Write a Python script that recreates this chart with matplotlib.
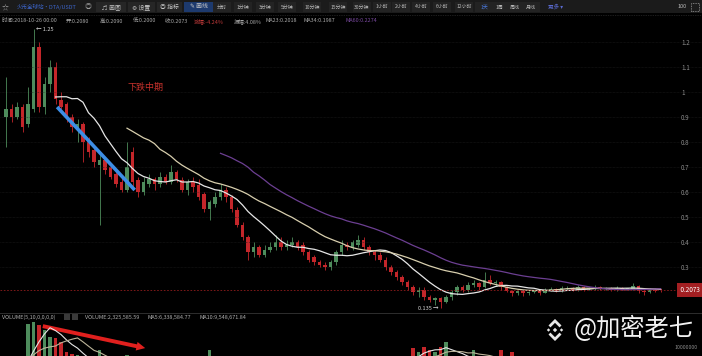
import numpy as np
import pandas as pd
import matplotlib
matplotlib.use("Agg")
import matplotlib.pyplot as plt
from matplotlib.patches import Rectangle, Polygon, FancyArrowPatch
from matplotlib.lines import Line2D

plt.rcParams['font.family'] = ['Noto Sans CJK SC', 'DejaVu Sans']

# ---------------------------------------------------------------------------
# dados (candles diários, 120 barras)
# ---------------------------------------------------------------------------
abre = [0.90, 0.93, 0.90, 0.94, 0.87, 0.93, 1.18, 0.94, 1.03, 1.10,
        0.97, 0.95, 0.90, 0.85, 0.87, 0.81, 0.77, 0.71, 0.73, 0.70,
        0.67, 0.64, 0.61, 0.76, 0.65, 0.60, 0.63, 0.65, 0.63, 0.66,
        0.64, 0.68, 0.65, 0.61, 0.64, 0.63, 0.59, 0.53, 0.55, 0.58,
        0.61, 0.58, 0.53, 0.47, 0.42, 0.36, 0.38, 0.35, 0.37, 0.38,
        0.40, 0.38, 0.39, 0.40, 0.39, 0.36, 0.34, 0.32, 0.31, 0.30,
        0.32, 0.36, 0.39, 0.38, 0.39, 0.41, 0.38, 0.36, 0.35, 0.33,
        0.30, 0.28, 0.26, 0.24, 0.22, 0.20, 0.21, 0.18, 0.17, 0.175,
        0.16, 0.18, 0.20, 0.22, 0.21, 0.23, 0.235, 0.22, 0.25, 0.235,
        0.24, 0.22, 0.205, 0.195, 0.205, 0.195, 0.20, 0.205, 0.198, 0.21,
        0.212, 0.205, 0.215, 0.218, 0.21, 0.22, 0.212, 0.215, 0.222, 0.214,
        0.216, 0.21, 0.218, 0.212, 0.214, 0.225, 0.205, 0.20, 0.21, 0.208]
fecha = [0.93, 0.90, 0.94, 0.86, 0.95, 1.18, 0.94, 1.03, 1.10, 0.97,
         0.94, 0.90, 0.86, 0.87, 0.80, 0.76, 0.72, 0.73, 0.69, 0.66,
         0.63, 0.61, 0.70, 0.64, 0.60, 0.64, 0.65, 0.63, 0.66, 0.64,
         0.68, 0.65, 0.61, 0.64, 0.62, 0.58, 0.53, 0.56, 0.58, 0.61,
         0.58, 0.53, 0.47, 0.42, 0.36, 0.38, 0.35, 0.37, 0.38, 0.40,
         0.38, 0.39, 0.40, 0.38, 0.36, 0.33, 0.32, 0.31, 0.30, 0.32,
         0.36, 0.39, 0.38, 0.40, 0.41, 0.38, 0.36, 0.35, 0.33, 0.30,
         0.28, 0.26, 0.24, 0.22, 0.20, 0.21, 0.18, 0.17, 0.175, 0.16,
         0.18, 0.20, 0.22, 0.21, 0.23, 0.235, 0.22, 0.25, 0.235, 0.24,
         0.22, 0.205, 0.195, 0.205, 0.195, 0.20, 0.205, 0.198, 0.21, 0.212,
         0.205, 0.215, 0.218, 0.21, 0.22, 0.212, 0.215, 0.222, 0.214, 0.216,
         0.21, 0.218, 0.212, 0.214, 0.225, 0.205, 0.20, 0.21, 0.206, 0.2073]
maxima = [1.06, 0.95, 0.96, 0.95, 1.02, 1.25, 1.20, 1.06, 1.13, 1.12,
          1.00, 0.96, 0.91, 0.89, 0.88, 0.82, 0.78, 0.76, 0.74, 0.71,
          0.68, 0.66, 0.80, 0.78, 0.66, 0.66, 0.67, 0.66, 0.68, 0.67,
          0.71, 0.69, 0.66, 0.65, 0.66, 0.65, 0.60, 0.57, 0.60, 0.63,
          0.62, 0.59, 0.54, 0.48, 0.43, 0.40, 0.39, 0.39, 0.40, 0.43,
          0.42, 0.41, 0.42, 0.41, 0.40, 0.37, 0.35, 0.33, 0.32, 0.33,
          0.37, 0.41, 0.40, 0.41, 0.43, 0.42, 0.39, 0.37, 0.36, 0.34,
          0.31, 0.29, 0.27, 0.25, 0.23, 0.22, 0.22, 0.19, 0.18, 0.18,
          0.19, 0.21, 0.23, 0.23, 0.24, 0.25, 0.24, 0.28, 0.27, 0.25,
          0.245, 0.225, 0.21, 0.21, 0.21, 0.205, 0.21, 0.21, 0.215, 0.22,
          0.215, 0.225, 0.225, 0.22, 0.23, 0.225, 0.22, 0.23, 0.225, 0.22,
          0.22, 0.225, 0.22, 0.218, 0.235, 0.23, 0.215, 0.215, 0.215, 0.209]
minima = [0.78, 0.88, 0.89, 0.84, 0.86, 0.92, 0.92, 0.91, 1.00, 0.95,
          0.93, 0.88, 0.84, 0.80, 0.72, 0.74, 0.70, 0.47, 0.67, 0.65,
          0.62, 0.60, 0.60, 0.62, 0.58, 0.59, 0.62, 0.61, 0.62, 0.63,
          0.63, 0.64, 0.60, 0.59, 0.60, 0.57, 0.52, 0.49, 0.54, 0.57,
          0.56, 0.52, 0.46, 0.41, 0.33, 0.34, 0.34, 0.34, 0.36, 0.37,
          0.37, 0.37, 0.38, 0.37, 0.35, 0.32, 0.31, 0.30, 0.29, 0.29,
          0.31, 0.35, 0.37, 0.37, 0.38, 0.37, 0.35, 0.33, 0.32, 0.29,
          0.27, 0.25, 0.23, 0.21, 0.19, 0.18, 0.17, 0.16, 0.15, 0.135,
          0.155, 0.17, 0.19, 0.20, 0.20, 0.22, 0.21, 0.215, 0.23, 0.225,
          0.21, 0.20, 0.185, 0.19, 0.185, 0.19, 0.195, 0.19, 0.195, 0.205,
          0.20, 0.20, 0.21, 0.205, 0.205, 0.205, 0.21, 0.21, 0.21, 0.21,
          0.205, 0.205, 0.208, 0.208, 0.21, 0.195, 0.19, 0.195, 0.20, 0.200]
volume_mi = [2.0, 2.5, 3.0, 3.6, 17.0, 17.5, 16.7, 15.0, 13.0, 12.7,
             11.5, 8.5, 8.0, 7.6, 5.0, 4.5, 4.0, 9.0, 4.0, 4.5,
             4.0, 3.5, 7.6, 6.0, 5.0, 3.0, 3.0, 2.5, 2.5, 2.0,
             3.0, 2.5, 2.0, 3.0, 2.5, 4.0, 3.5, 9.0, 5.0, 3.0,
             3.0, 3.5, 4.0, 4.5, 6.0, 3.0, 2.5, 2.0, 2.0, 3.0,
             2.5, 2.0, 2.5, 2.0, 3.0, 3.5, 2.5, 2.5, 2.0, 2.5,
             3.5, 4.0, 2.5, 2.5, 3.0, 2.5, 2.5, 2.5, 3.0, 3.5,
             4.0, 4.5, 6.0, 6.5, 9.7, 8.5, 10.0, 9.0, 8.5, 10.0,
             11.5, 7.0, 6.0, 5.5, 6.0, 9.0, 6.0, 7.0, 6.0, 5.0,
             9.0, 6.0, 8.5, 4.0, 3.5, 3.0, 3.0, 2.5, 3.5, 3.0,
             2.5, 3.0, 3.0, 2.5, 3.5, 3.0, 2.5, 3.0, 3.0, 2.5,
             2.5, 3.0, 2.5, 2.5, 4.0, 5.0, 4.0, 3.0, 2.5, 2.3]
JANELAS_MA = [10, 23, 40]
JANELAS_VOL = [5, 10]
# linha de tendência desenhada à mão (azul)
tend_x = [9.3, 23.4]
tend_y = [0.94, 0.608]
# seta vermelha no painel de volume
seta_x = [6.2, 25.8]
seta_y = [16.5e6, 9.5e6]
y_ticks = [0.3, 0.4, 0.5, 0.6, 0.7, 0.8, 0.9, 1.0, 1.1, 1.2]

toolbar_tf = ["分时", "1分钟", "3分钟", "5分钟", "10分钟", "15分钟", "30分钟", "1小时",
              "2小时", "4小时", "6小时", "12小时", "1天", "1周", "周线", "月线"]
info = [("时间:2018-10-26 00:00", "#a8a8a8"), ("开:0.2080", "#a8a8a8"),
        ("高:0.2090", "#a8a8a8"), ("低:0.2000", "#a8a8a8"), ("收:0.2073", "#a8a8a8"),
        ("涨幅:-4.24%", "#c03a3a"), ("振幅:4.08%", "#a8a8a8"),
        ("MA23:0.2018", "#a8a8a8"), ("MA34:0.1987", "#a8a8a8"), ("MA60:0.2274", "#7a4aa0")]
vol_info = ["VOLUME(5,10,0,0,0,0)", "VOLUME:2,325,585.59", "MA5:6,338,584.77",
            "MA10:9,548,671.84"]

# ---------------------------------------------------------------------------
W, H = 702, 356
VERM, VERDE = "#c4262a", "#4e8c5c"
fig = plt.figure(figsize=(W / 100, H / 100), dpi=100, facecolor="#000000")

def fx(x): return x / W
def fy(y): return 1 - y / H
def txt(x, y, s, **kw):
    kw.setdefault("va", "center")
    fig.text(fx(x), fy(y), s, **kw)
def caixa(x0, x1, y0, y1, cor):
    fig.add_artist(Rectangle((fx(x0), fy(y1)), (x1 - x0) / W, (y1 - y0) / H,
                             transform=fig.transFigure, facecolor=cor, edgecolor="none"))

o = np.array(abre); c = np.array(fecha); hi = np.array(maxima); lo = np.array(minima)
vol = np.array(volume_mi) * 1e6
idx = np.arange(len(c))
cor = np.where(c >= o, VERDE, VERM)
X0, DX = 6, 5.5  # px do 1o candle e espaçamento
xlim = ((0 - X0) / DX, (W - X0) / DX)

# --- painel de preço ---
ax = fig.add_axes([0, fy(313), 1, 285 / H], facecolor="#000000")
ax.set_xlim(*xlim)
ax.set_ylim((342 - 313) / 250, (342 - 28) / 250)
ax.vlines(idx, lo, hi, colors=cor, lw=0.6)
ax.bar(idx, np.maximum(np.abs(c - o), 0.003), bottom=np.minimum(o, c), width=0.62,
       color=cor, linewidth=0)
cores_ma = ["#e6e6e6", "#d8cfae", "#6c3f92"]
for w, cc in zip(JANELAS_MA, cores_ma):
    ax.plot(idx, pd.Series(c).rolling(w).mean(), color=cc, lw=0.9)
ax.plot(tend_x, tend_y, color="#3d8ee6", lw=2.6, solid_capstyle="butt")
ax.axhline(c[-1], color="#8e1c1c", lw=0.6, ls=(0, (2, 2)))
ax.text(0.9995, c[-1], f" {c[-1]:.4f} ", transform=ax.get_yaxis_transform(), ha="right",
        va="center", fontsize=4.6, color="white",
        bbox=dict(facecolor="#a31f22", edgecolor="none", pad=2.0))
imax = int(np.argmax(hi)); imin = int(np.argmin(lo))
ax.text(imax + 0.4, hi[imax], f"← {hi[imax]:.2f}", fontsize=4, color="#d8d8d8", va="center")
ax.text(imin - 0.4, lo[imin], f"{lo[imin]:.3f} →", fontsize=4, color="#d8d8d8",
        va="center", ha="right")
ax.set_yticks(y_ticks)
ax.set_yticklabels([f"{v:g}" for v in y_ticks])
ax.yaxis.tick_right()
ax.tick_params(axis="y", length=0, pad=-15, labelsize=4.5, labelcolor="#8c8c8c")
ax.set_xticks([])
ax.grid(axis="y", color="#1a1a1a", lw=0.5, ls=(0, (1, 1)))
for s in ax.spines.values(): s.set_visible(False)

# --- painel de volume ---
axv = fig.add_axes([0, fy(380), 1, 62 / H], facecolor="none")
axv.set_xlim(*xlim); axv.set_ylim(0, 62 * 0.303e6)
axv.bar(idx, vol, width=0.62, color=cor, linewidth=0)
for w, cc in zip(JANELAS_VOL, ["#e6e6e6", "#bdb59a"]):
    axv.plot(idx, pd.Series(vol).rolling(w, min_periods=1).mean(), color=cc, lw=0.8)
axv.add_patch(FancyArrowPatch((seta_x[0], seta_y[0]), (seta_x[1], seta_y[1]),
                              arrowstyle="simple,head_length=0.9,head_width=0.9,tail_width=0.4",
                              mutation_scale=7, color="#e0201e", lw=0))
axv.set_yticks([10e6]); axv.set_yticklabels(["10000000"])
axv.yaxis.tick_right()
axv.tick_params(axis="y", length=0, pad=-20, labelsize=3.8, labelcolor="#8c8c8c")
axv.set_xticks([])
for s in axv.spines.values(): s.set_visible(False)
fig.add_artist(Line2D([0, 1], [fy(313), fy(313)], transform=fig.transFigure,
                      color="#2e2e2e", lw=0.7))

# --- barra de ferramentas / textos ---
caixa(0, W, 0, 13, "#1b1b1b")
fig.add_artist(Line2D([0, 1], [fy(14.5), fy(14.5)], transform=fig.transFigure,
                      color="#3a3a3a", lw=0.5, ls=(0, (1, 1.5))))
txt(5, 7, "☆", fontsize=5, color="#9a9a9a", ha="center")
txt(17, 7, "火币全球站·DTA/USDT", fontsize=4.0, color="#3c64c8")
txt(88, 7, "◎", fontsize=5, color="#9a9a9a", ha="center")
for (a, b, s, bg) in [(96, 126, "♫ 画图", "#262626"), (128, 155, "⚙ 设置", "#262626"),
                      (157, 182, "◎ 指标", "#262626"), (184, 213, "✎ 画线", "#1d3a6e")]:
    caixa(a, b, 2, 12, bg)
    txt((a + b) / 2, 7, s, fontsize=4.2, color="#c8c8c8", ha="center")
centros = [222, 243, 265, 287, 312, 338, 362, 382, 401, 421, 442, 464, 484, 499, 515, 531]
for s, xc in zip(toolbar_tf, centros):
    caixa(xc - 9, xc + 9, 2, 12, "#232323")
    txt(xc, 7, s, fontsize=3.6, color="#4a7ae0" if s == "1天" else "#b8b8b8", ha="center")
txt(548, 7, "更多 ▾", fontsize=4.0, color="#5a6ad0")
txt(682, 7, "100", fontsize=4, color="#b8b8b8", ha="center")
fig.add_artist(Rectangle((fx(691), fy(11)), 8 / W, 8 / H, transform=fig.transFigure,
                         facecolor="none", edgecolor="#9a9a9a", lw=0.6, ls=(0, (1, 1))))

xs_info = [2, 66, 100, 133, 165, 194, 234, 266, 303, 345]
for (s, cc), xi in zip(info, xs_info):
    txt(xi, 21, s, fontsize=3.9, color=cc)

txt(127, 87, "下跌中期", fontsize=6.5, color="#c8322c")

xs_vol = [2, 85, 147, 200]
for s, xi in zip(vol_info, xs_vol):
    txt(xi, 317, s, fontsize=3.9, color="#b0b0b0")
caixa(64, 70, 314, 320, "#3a3a3a"); caixa(72, 78, 314, 320, "#3a3a3a")

# --- marca d'água ---
cx, cy, k = 555, 330, 13
formas = [[(0, .17), (.17, 0), (0, -.17), (-.17, 0)],
          [(-.5, .13), (-.37, 0), (-.5, -.13), (-.63, 0)],
          [(.5, .13), (.63, 0), (.5, -.13), (.37, 0)],
          [(0, .85), (.5, .35), (.35, .2), (0, .55), (-.35, .2), (-.5, .35)],
          [(0, -.85), (.5, -.35), (.35, -.2), (0, -.55), (-.35, -.2), (-.5, -.35)]]
for f in formas:
    pts = [(fx(cx + k * u), fy(cy - k * v)) for u, v in f]
    fig.add_artist(Polygon(pts, closed=True, transform=fig.transFigure,
                           facecolor="#e8e8e8", edgecolor="none"))
txt(574, 329, "@加密老七", fontsize=17.5, color="#f2f2f2")

fig.savefig("out.png", dpi=100, facecolor=fig.get_facecolor())
